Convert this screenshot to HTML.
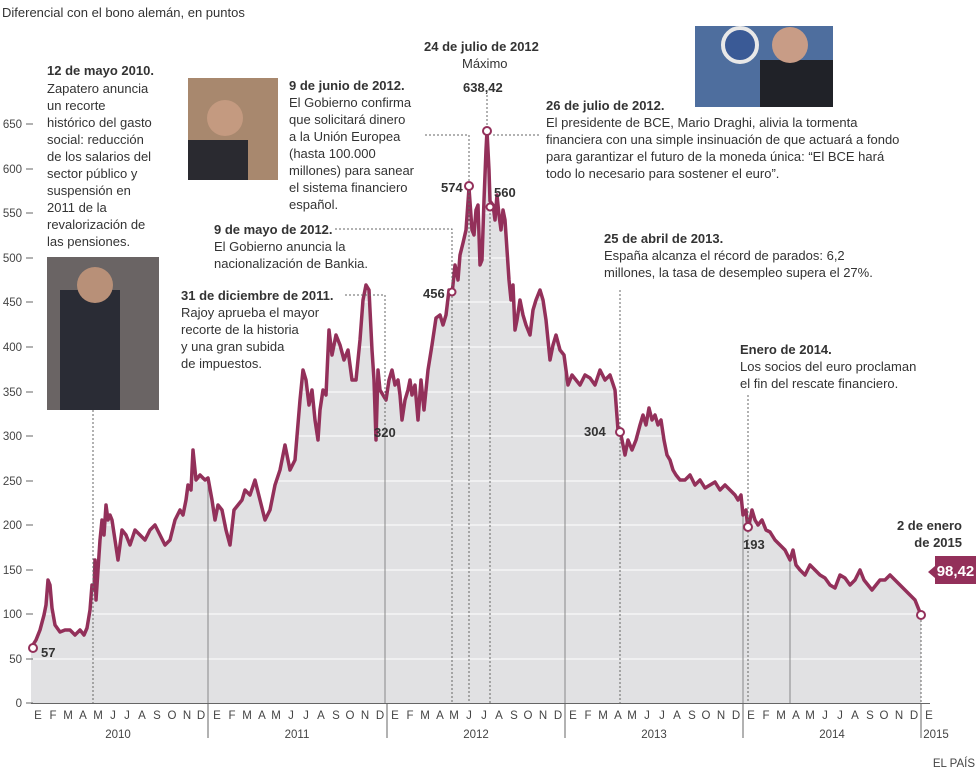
<!DOCTYPE html>
<html><head><meta charset="utf-8"><style>
html,body{margin:0;padding:0;background:#fff}
svg{display:block;font-family:"Liberation Sans",Arial,sans-serif}
.t{font-size:13px;fill:#333}
.b{font-size:13px;fill:#333;font-weight:bold}
.ax{font-size:11.5px;fill:#444}
.lb{font-size:13px;fill:#333;font-weight:bold}
.dl{stroke:#666;stroke-width:1;stroke-dasharray:2,2;fill:none}
</style></head><body>
<svg width="980" height="774" viewBox="0 0 980 774">
<defs>
<clipPath id="c"><polygon points="31,703 31,648 36,640 40,630 44,615 46,605 48,580 50,585 52,608 55,625 60,632 65,630 70,630 75,635 80,630 84,635 87,628 90,610 92,585 94,590 95,560 96,600 98,570 100,540 102,520 104,535 106,505 108,520 110,515 112,520 115,540 118,560 120,545 122,530 126,535 130,545 135,530 140,535 145,540 150,530 155,525 160,535 165,545 170,540 175,520 180,510 183,515 186,500 188,485 191,490 193,450 196,480 200,475 205,480 208,478 212,500 215,520 218,505 222,510 226,530 230,545 234,510 238,505 242,500 245,490 250,495 255,480 260,500 265,520 270,510 275,485 280,470 285,445 290,470 295,460 300,400 303,370 306,380 309,405 312,390 315,420 318,440 320,410 323,390 326,395 329,330 332,355 336,335 340,345 344,360 348,350 352,380 356,380 360,340 363,300 366,285 369,290 372,350 374,380 376,440 378,370 380,390 383,395 386,400 389,380 392,370 395,385 398,380 400,395 402,420 405,400 408,390 410,380 412,395 415,385 418,420 421,380 424,410 428,370 432,345 436,318 440,315 443,325 446,315 449,290 452,294 455,265 458,280 460,255 463,243 466,230 469,188 472,230 474,235 476,210 478,205 480,265 482,260 484,200 486,150 487,131 489,170 490,201 493,205 495,220 497,195 499,215 501,230 503,210 505,220 507,250 509,280 511,300 513,285 515,330 517,320 520,300 523,315 526,325 530,335 533,310 536,300 540,290 543,300 546,320 550,360 553,345 556,335 560,350 564,355 568,385 572,375 576,380 580,385 585,375 590,378 595,385 600,370 605,380 610,375 615,390 618,430 620,430 622,440 625,455 628,440 632,450 636,440 640,425 643,415 646,425 649,408 652,420 655,415 658,425 661,420 664,440 667,455 670,460 673,470 676,475 680,480 685,480 690,475 695,485 700,480 705,488 710,485 715,482 720,490 725,485 730,490 735,495 738,500 741,495 743,515 746,510 748,530 752,510 755,520 758,525 762,520 766,530 770,532 775,540 780,545 785,550 790,560 793,550 796,565 800,570 805,575 810,565 815,570 820,575 825,578 830,585 835,588 840,575 845,578 850,585 855,580 860,570 864,580 868,585 872,590 876,585 880,580 885,580 890,575 895,580 900,585 905,590 910,595 915,600 921,615 921,703"/></clipPath>
</defs>
<text x="2" y="17" class="t">Diferencial con el bono alemán, en puntos</text>
<g clip-path="url(#c)">
<rect x="31" y="100" width="890" height="603" fill="#e1e1e3"/>
<g stroke="#fff" stroke-width="1">
<line x1="31" x2="921" y1="659" y2="659"/><line x1="31" x2="921" y1="614" y2="614"/><line x1="31" x2="921" y1="570" y2="570"/><line x1="31" x2="921" y1="525" y2="525"/><line x1="31" x2="921" y1="481" y2="481"/><line x1="31" x2="921" y1="436" y2="436"/><line x1="31" x2="921" y1="392" y2="392"/><line x1="31" x2="921" y1="347" y2="347"/><line x1="31" x2="921" y1="302" y2="302"/><line x1="31" x2="921" y1="258" y2="258"/><line x1="31" x2="921" y1="213" y2="213"/><line x1="31" x2="921" y1="169" y2="169"/>
</g>
<g stroke="#888" stroke-width="1">
<line x1="208" x2="208" y1="100" y2="703"/><line x1="565" x2="565" y1="100" y2="703"/><line x1="743" x2="743" y1="100" y2="703"/><line x1="385" x2="385" y1="430" y2="703"/><line x1="790" x2="790" y1="560" y2="703"/>
</g>
</g>
<polyline fill="none" stroke="#93305a" stroke-width="3.5" stroke-linejoin="round" points="31,648 36,640 40,630 44,615 46,605 48,580 50,585 52,608 55,625 60,632 65,630 70,630 75,635 80,630 84,635 87,628 90,610 92,585 94,590 95,560 96,600 98,570 100,540 102,520 104,535 106,505 108,520 110,515 112,520 115,540 118,560 120,545 122,530 126,535 130,545 135,530 140,535 145,540 150,530 155,525 160,535 165,545 170,540 175,520 180,510 183,515 186,500 188,485 191,490 193,450 196,480 200,475 205,480 208,478 212,500 215,520 218,505 222,510 226,530 230,545 234,510 238,505 242,500 245,490 250,495 255,480 260,500 265,520 270,510 275,485 280,470 285,445 290,470 295,460 300,400 303,370 306,380 309,405 312,390 315,420 318,440 320,410 323,390 326,395 329,330 332,355 336,335 340,345 344,360 348,350 352,380 356,380 360,340 363,300 366,285 369,290 372,350 374,380 376,440 378,370 380,390 383,395 386,400 389,380 392,370 395,385 398,380 400,395 402,420 405,400 408,390 410,380 412,395 415,385 418,420 421,380 424,410 428,370 432,345 436,318 440,315 443,325 446,315 449,290 452,294 455,265 458,280 460,255 463,243 466,230 469,188 472,230 474,235 476,210 478,205 480,265 482,260 484,200 486,150 487,131 489,170 490,201 493,205 495,220 497,195 499,215 501,230 503,210 505,220 507,250 509,280 511,300 513,285 515,330 517,320 520,300 523,315 526,325 530,335 533,310 536,300 540,290 543,300 546,320 550,360 553,345 556,335 560,350 564,355 568,385 572,375 576,380 580,385 585,375 590,378 595,385 600,370 605,380 610,375 615,390 618,430 620,430 622,440 625,455 628,440 632,450 636,440 640,425 643,415 646,425 649,408 652,420 655,415 658,425 661,420 664,440 667,455 670,460 673,470 676,475 680,480 685,480 690,475 695,485 700,480 705,488 710,485 715,482 720,490 725,485 730,490 735,495 738,500 741,495 743,515 746,510 748,530 752,510 755,520 758,525 762,520 766,530 770,532 775,540 780,545 785,550 790,560 793,550 796,565 800,570 805,575 810,565 815,570 820,575 825,578 830,585 835,588 840,575 845,578 850,585 855,580 860,570 864,580 868,585 872,590 876,585 880,580 885,580 890,575 895,580 900,585 905,590 910,595 915,600 921,615"/>
<g class="ax" text-anchor="end">
<text x="22" y="707">0</text><text x="22" y="663">50</text><text x="22" y="618">100</text><text x="22" y="574">150</text><text x="22" y="529">200</text><text x="22" y="485">250</text><text x="22" y="440">300</text><text x="22" y="396">350</text><text x="22" y="351">400</text><text x="22" y="306">450</text><text x="22" y="262">500</text><text x="22" y="217">550</text><text x="22" y="173">600</text><text x="22" y="128">650</text>
</g>
<g stroke="#666"><line x1="26" x2="33" y1="703" y2="703"/><line x1="26" x2="33" y1="659" y2="659"/><line x1="26" x2="33" y1="614" y2="614"/><line x1="26" x2="33" y1="570" y2="570"/><line x1="26" x2="33" y1="525" y2="525"/><line x1="26" x2="33" y1="481" y2="481"/><line x1="26" x2="33" y1="436" y2="436"/><line x1="26" x2="33" y1="392" y2="392"/><line x1="26" x2="33" y1="347" y2="347"/><line x1="26" x2="33" y1="302" y2="302"/><line x1="26" x2="33" y1="258" y2="258"/><line x1="26" x2="33" y1="213" y2="213"/><line x1="26" x2="33" y1="169" y2="169"/><line x1="26" x2="33" y1="124" y2="124"/></g>
<line x1="31" x2="930" y1="703.5" y2="703.5" stroke="#666"/>
<g stroke="#666"><line x1="208" x2="208" y1="703" y2="738"/><line x1="387" x2="387" y1="703" y2="738"/><line x1="565" x2="565" y1="703" y2="738"/><line x1="743" x2="743" y1="703" y2="738"/><line x1="921" x2="921" y1="703" y2="738"/></g>
<g class="ax" text-anchor="middle" font-size="12">
<text x="118" y="738">2010</text><text x="297" y="738">2011</text><text x="476" y="738">2012</text><text x="654" y="738">2013</text><text x="832" y="738">2014</text><text x="936" y="738">2015</text>
</g>
<text x="975" y="767" class="ax" text-anchor="end">EL PAÍS</text>
<path class="dl" d="M93,410V703 M345,295H385V430 M335,229H452V703 M425,135H469V703 M487,95V125 M493,135H540 M490,205V703 M620,290V703 M748,395V703 M921,620V703"/>
<g fill="#fff" stroke="#93305a" stroke-width="2">
<circle cx="33" cy="648" r="4"/><circle cx="469" cy="186" r="4"/><circle cx="487" cy="131" r="4"/><circle cx="490" cy="207" r="3.5"/><circle cx="452" cy="292" r="3.5"/><circle cx="620" cy="432" r="4"/><circle cx="748" cy="527" r="4"/><circle cx="921" cy="615" r="4"/>
</g>
<g class="lb"><text x="41" y="657">57</text><text x="374" y="437">320</text><text x="423" y="298">456</text><text x="441" y="192">574</text><text x="494" y="197">560</text><text x="584" y="436">304</text><text x="743" y="549">193</text><text x="463" y="92">638,42</text></g>
<rect x="47" y="257" width="112" height="153" fill="#6a6464"/><rect x="60" y="290" width="60" height="120" fill="#2a2c35"/><circle cx="95" cy="285" r="18" fill="#b89078"/>
<rect x="188" y="78" width="90" height="102" fill="#a8886e"/><rect x="188" y="140" width="60" height="40" fill="#2a2a30"/><circle cx="225" cy="118" r="18" fill="#c49a80"/>
<rect x="695" y="26" width="138" height="81" fill="#4e6e9e"/><rect x="760" y="60" width="73" height="47" fill="#202228"/><circle cx="790" cy="45" r="18" fill="#c89c86"/><circle cx="740" cy="45" r="17" fill="#3a5a96" stroke="#e8e8e8" stroke-width="4"/>
<text x="47" y="75" class="b">12 de mayo 2010.</text>
<text class="t"><tspan x="47" y="93">Zapatero anuncia</tspan><tspan x="47" y="110">un recorte</tspan><tspan x="47" y="127">histórico del gasto</tspan><tspan x="47" y="144">social: reducción</tspan><tspan x="47" y="161">de los salarios del</tspan><tspan x="47" y="178">sector público y</tspan><tspan x="47" y="195">suspensión en</tspan><tspan x="47" y="212">2011 de la</tspan><tspan x="47" y="229">revalorización de</tspan><tspan x="47" y="246">las pensiones.</tspan></text>
<text x="289" y="90" class="b">9 de junio de 2012.</text>
<text class="t"><tspan x="289" y="107">El Gobierno confirma</tspan><tspan x="289" y="124">que solicitará dinero</tspan><tspan x="289" y="141">a la Unión Europea</tspan><tspan x="289" y="158">(hasta 100.000</tspan><tspan x="289" y="175">millones) para sanear</tspan><tspan x="289" y="192">el sistema financiero</tspan><tspan x="289" y="209">español.</tspan></text>
<text x="424" y="51" class="b">24 de julio de 2012</text>
<text x="462" y="68" class="t">Máximo</text>
<text x="546" y="110" class="b">26 de julio de 2012.</text>
<text class="t"><tspan x="546" y="127">El presidente de BCE, Mario Draghi, alivia la tormenta</tspan><tspan x="546" y="144">financiera con una simple insinuación de que actuará a fondo</tspan><tspan x="546" y="161">para garantizar el futuro de la moneda única: “El BCE hará</tspan><tspan x="546" y="178">todo lo necesario para sostener el euro”.</tspan></text>
<text x="214" y="234" class="b">9 de mayo de 2012.</text>
<text class="t"><tspan x="214" y="251">El Gobierno anuncia la</tspan><tspan x="214" y="268">nacionalización de Bankia.</tspan></text>
<text x="181" y="300" class="b">31 de diciembre de 2011.</text>
<text class="t"><tspan x="181" y="317">Rajoy aprueba el mayor</tspan><tspan x="181" y="334">recorte de la historia</tspan><tspan x="181" y="351">y una gran subida</tspan><tspan x="181" y="368">de impuestos.</tspan></text>
<text x="604" y="243" class="b">25 de abril de 2013.</text>
<text class="t"><tspan x="604" y="260">España alcanza el récord de parados: 6,2</tspan><tspan x="604" y="277">millones, la tasa de desempleo supera el 27%.</tspan></text>
<text x="740" y="354" class="b">Enero de 2014.</text>
<text class="t"><tspan x="740" y="371">Los socios del euro proclaman</tspan><tspan x="740" y="388">el fin del rescate financiero.</tspan></text>
<text class="b" text-anchor="end"><tspan x="962" y="530">2 de enero</tspan><tspan x="962" y="547">de 2015</tspan></text>
<path d="M935,556H976V584H935V578L928,572L935,566Z" fill="#93305a"/>
<text x="955.5" y="576" text-anchor="middle" font-size="15" font-weight="bold" fill="#fff">98,42</text>
<g class="ax" text-anchor="middle" font-size="11.5">
<text x="38" y="719">E</text><text x="53" y="719">F</text><text x="68" y="719">M</text><text x="83" y="719">A</text><text x="98" y="719">M</text><text x="113" y="719">J</text><text x="127" y="719">J</text><text x="142" y="719">A</text><text x="157" y="719">S</text><text x="172" y="719">O</text><text x="187" y="719">N</text><text x="201" y="719">D</text>
<text x="217" y="719">E</text><text x="232" y="719">F</text><text x="247" y="719">M</text><text x="262" y="719">A</text><text x="276" y="719">M</text><text x="291" y="719">J</text><text x="306" y="719">J</text><text x="321" y="719">A</text><text x="336" y="719">S</text><text x="350" y="719">O</text><text x="365" y="719">N</text><text x="380" y="719">D</text>
<text x="395" y="719">E</text><text x="410" y="719">F</text><text x="425" y="719">M</text><text x="440" y="719">A</text><text x="454" y="719">M</text><text x="469" y="719">J</text><text x="484" y="719">J</text><text x="499" y="719">A</text><text x="514" y="719">S</text><text x="528" y="719">O</text><text x="543" y="719">N</text><text x="558" y="719">D</text>
<text x="573" y="719">E</text><text x="588" y="719">F</text><text x="603" y="719">M</text><text x="618" y="719">A</text><text x="632" y="719">M</text><text x="647" y="719">J</text><text x="662" y="719">J</text><text x="677" y="719">A</text><text x="692" y="719">S</text><text x="706" y="719">O</text><text x="721" y="719">N</text><text x="736" y="719">D</text>
<text x="751" y="719">E</text><text x="766" y="719">F</text><text x="781" y="719">M</text><text x="796" y="719">A</text><text x="810" y="719">M</text><text x="825" y="719">J</text><text x="840" y="719">J</text><text x="855" y="719">A</text><text x="870" y="719">S</text><text x="884" y="719">O</text><text x="899" y="719">N</text><text x="914" y="719">D</text>
<text x="929" y="719">E</text>
</g>
</svg>
</body></html>
